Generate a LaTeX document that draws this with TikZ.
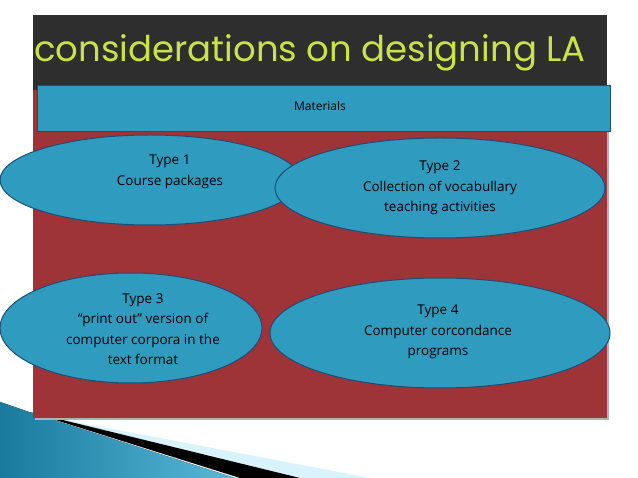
\documentclass[tikz,border=0pt]{standalone}
\usepackage{fontspec}
\usetikzlibrary{shapes.geometric}
\setmainfont{Open Sans}
\newfontfamily\titlefont{Poppins}
\begin{document}
\begin{tikzpicture}[x=1pt,y=-1pt,
  ell/.style={draw=ellb, line width=1pt, fill=tealfill, ellipse, align=center, font=\fontsize{13.5}{20.5}\selectfont, text=black},
  lbl/.style={font=\fontsize{13.5}{20.5}\selectfont, align=center},
]
\definecolor{tealfill}{HTML}{2F9BBF}
\definecolor{ellb}{HTML}{1E4E78}
\definecolor{redbg}{HTML}{9E3338}
\definecolor{titlecol}{HTML}{C9E24A}
\definecolor{swa}{HTML}{1A7A9E}
\definecolor{swb}{HTML}{58B8D8}
\useasboundingbox (0,0) rectangle (638,478);
\fill[white] (0,0) rectangle (638,478);
% swoosh
\fill[cyan!15!white] (55,418) -- (370,478) -- (250,478) -- cycle;
\fill[black] (30,412) -- (300,478) -- (240,478) -- cycle;
\fill[left color=swa, right color=swb] (0,402) -- (35,414) -- (235,478) -- (0,478) -- cycle;
% red background
\fill[gray!60] (35,93) rectangle (609,420);
\fill[redbg] (33,90) rectangle (607,418);
% title bar
\node[fill=black!82, minimum width=574pt, minimum height=75pt, anchor=north west, inner sep=0] (tb) at (33,15) {};
\node[text=titlecol, font=\titlefont\fontsize{35.5}{40}\selectfont, anchor=center] (title) at (310,53) {considerations on designing LA};
% materials
\node[draw=ellb, line width=1pt, fill=tealfill, minimum width=573pt, minimum height=46pt, anchor=north west, inner sep=0] (mat) at (37,85) {};
\node[font=\fontsize{12}{14}\selectfont] (matt) at (320,106) {Materials};
% ellipses
\node[ell, minimum width=300pt, minimum height=90pt] (t1) at (150,180) {};
\node[lbl] (t1t) at (170,172) {Type 1\\Course packages};
\node[ell, minimum width=330pt, minimum height=100pt] (t2) at (440,188) {Type 2\\Collection of vocabullary\\teaching activities};
\node[ell, minimum width=262pt, minimum height=110pt] (t3) at (131,328) {};
\node[lbl] (t3t) at (143,329) {Type 3\\``print out'' version of\\computer corpora in the\\text format};
\node[ell, minimum width=340pt, minimum height=110pt] (t4) at (440,333) {};
\node[lbl] (t4t) at (438,332) {Type 4\\Computer corcondance\\programs};
\end{tikzpicture}
\end{document}
